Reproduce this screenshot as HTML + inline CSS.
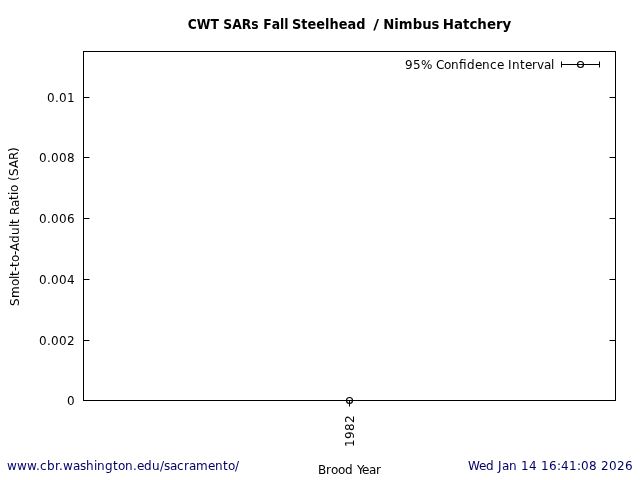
<!DOCTYPE html>
<html><head><meta charset="utf-8"><title>CWT SARs Fall Steelhead / Nimbus Hatchery</title>
<style>
html,body{margin:0;padding:0;background:#fff;width:640px;height:480px;overflow:hidden}
svg{display:block}
text{font-family:"DejaVu Sans","Liberation Sans",sans-serif;font-size:12px;fill:#000;white-space:pre;font-variant-ligatures:common-ligatures;font-kerning:none}
.t{font-weight:bold;font-size:13.3px}
.tc{font-weight:bold;font-size:13.3px;font-family:"DejaVu Sans Condensed","DejaVu Sans","Liberation Sans",sans-serif}
.b{fill:#000066}
</style></head><body>
<svg width="640" height="480" viewBox="0 0 640 480">
<rect width="640" height="480" fill="#fff"/>
<g stroke="#000" stroke-width="1" fill="none">
<rect x="83.5" y="51.5" width="532" height="349" shape-rendering="crispEdges"/>
<path d="M83.5 400.5h6M615.5 400.5h-6M83.5 340.5h6M615.5 340.5h-6M83.5 279.5h6M615.5 279.5h-6M83.5 218.5h6M615.5 218.5h-6M83.5 157.5h6M615.5 157.5h-6M83.5 97.5h6M615.5 97.5h-6"/>
<path d="M349.5 400.5v6"/>
<path d="M561.5 64.5h38M561.5 61.5v6M599.5 61.5v6"/>
<circle cx="580.5" cy="64.5" r="3" stroke-width="1.15"/>
<circle cx="349.5" cy="400.5" r="3" stroke-width="1.15"/>
</g>
<text class="t" y="28.5"><tspan class="tc" x="187.75" textLength="70.87" lengthAdjust="spacingAndGlyphs">CWT SARs</tspan> <tspan class="tc" x="263.30" textLength="25.27" lengthAdjust="spacingAndGlyphs">Fall</tspan> <tspan class="tc" x="292.00" textLength="73.39" lengthAdjust="spacingAndGlyphs">Steelhead</tspan>  <tspan class="t" x="373.20" textLength="5.76" lengthAdjust="spacingAndGlyphs">/</tspan> <tspan class="t" x="383.25" textLength="56.20" lengthAdjust="spacingAndGlyphs">Nimbus</tspan> <tspan class="t" x="442.75" textLength="68.56" lengthAdjust="spacingAndGlyphs">Hatchery</tspan></text>
<text y="69"><tspan x="405 413 421 432 436 444 451">95% Con</tspan><tspan x="459">fi</tspan><tspan x="467 475 482 490 497 504 508 512 520 525 532 537 544 551">dence Interval</tspan></text>
<text x="67" y="405">0</text>
<text x="39 47 51 59 67" y="345">0.002</text>
<text x="39 47 51 59 67" y="284">0.004</text>
<text x="39 47 51 59 67" y="223">0.006</text>
<text x="39 47 51 59 67" y="162">0.008</text>
<text x="47 55 59 67" y="102">0.01</text>
<text transform="translate(354,447) rotate(-90)" x="0 8 16 24" y="0">1982</text>
<text transform="translate(18.5,306) rotate(-90)" x="0 8 20 27 30 35 39 44 51 55 63 71 79 82 87 91 99 106 111 114 121 125 130 138 146 154" y="0 0 0 0 0 0 0 0 0 0 0 0 0 0 0 0 0 -0.8 -0.8 -0.8 -0.8 -0.8 -0.8 -0.8 -0.8 -0.8">Smolt-to-Adult Ratio (SAR)</text>
<text x="318 326 331 338 345 353 357 362 369 376" y="474">Brood Year</text>
<text class="b" x="7 17 27 36 40 47 55 59 63 73 80 86 94 97 105 113 118 125 133 137 144 152 160 164 170 177 184 189 196 208 215 223 228 235" y="470">www.cbr.washington.edu/sacramento/</text>
<text class="b" x="468 479 486 494 498 502 509 517 521 529 537 541 549 557 561 569 577 581 589 597 601 609 617 625" y="470">Wed Jan 14 16:41:08 2026</text>
</svg>
</body></html>
